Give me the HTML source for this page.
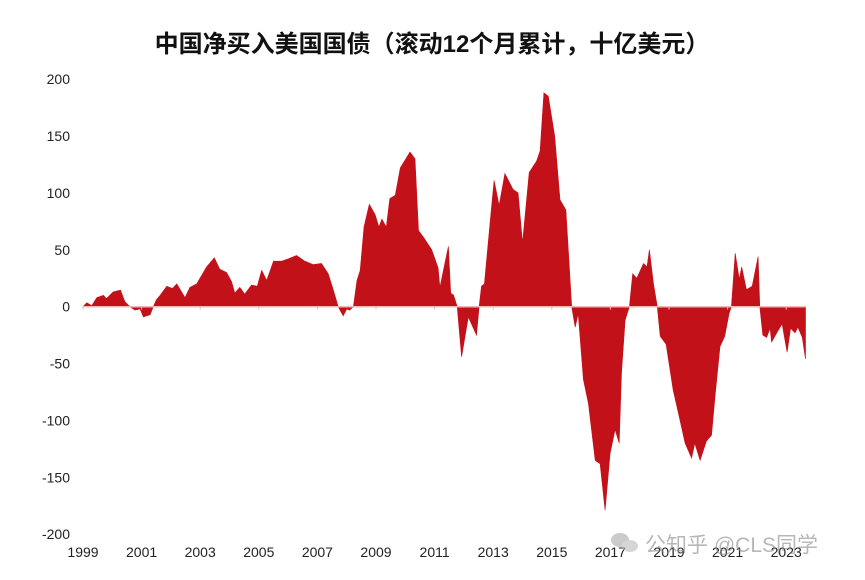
<!DOCTYPE html>
<html><head><meta charset="utf-8">
<style>
html,body{margin:0;padding:0;background:#fff;}
body{width:865px;height:575px;overflow:hidden;font-family:"Liberation Sans","Noto Sans CJK SC",sans-serif;}
</style></head>
<body>
<svg id="chart" width="865" height="575" xmlns="http://www.w3.org/2000/svg">
<text x="432" y="52" text-anchor="middle" font-family="Liberation Sans, Noto Sans CJK SC, sans-serif" font-size="24" font-weight="bold" fill="#111">中国净买入美国国债（滚动12个月累计，十亿美元）</text>
<g id="yaxis"></g>
<g id="xaxis"></g>
<g id="series"></g>
<g opacity="0.6">
<ellipse cx="620" cy="540" rx="9" ry="7" fill="#aaa"/><ellipse cx="630" cy="546" rx="8" ry="6" fill="#bbb"/>
<text x="645" y="552" font-size="21" fill="#888" font-family="Liberation Sans, Noto Sans CJK SC, sans-serif">公知乎 @CLS同学</text>
</g>
</svg>
<script>
const dates=[1999.0,1999.13,1999.3,1999.47,1999.7,1999.8,2000.03,2000.28,2000.43,2000.6,2000.77,2000.95,2001.06,2001.29,2001.4,2001.5,2001.6,2001.86,2002.05,2002.2,2002.48,2002.65,2002.88,2003.22,2003.48,2003.67,2003.9,2004.07,2004.18,2004.35,2004.52,2004.75,2004.95,2005.1,2005.27,2005.5,2005.78,2006.0,2006.29,2006.57,2006.86,2007.14,2007.37,2007.54,2007.71,2007.88,2008.0,2008.1,2008.23,2008.35,2008.46,2008.59,2008.77,2008.97,2009.1,2009.2,2009.35,2009.47,2009.66,2009.83,2010.16,2010.33,2010.45,2010.62,2010.9,2011.12,2011.18,2011.47,2011.55,2011.65,2011.77,2011.92,2012.15,2012.43,2012.52,2012.6,2012.7,2012.9,2013.03,2013.2,2013.4,2013.68,2013.85,2014.0,2014.23,2014.48,2014.6,2014.73,2014.88,2015.1,2015.28,2015.48,2015.68,2015.8,2015.9,2016.08,2016.25,2016.48,2016.65,2016.82,2016.99,2017.16,2017.3,2017.38,2017.5,2017.65,2017.76,2017.9,2018.13,2018.25,2018.33,2018.47,2018.6,2018.7,2018.9,2019.14,2019.35,2019.55,2019.77,2019.88,2020.06,2020.28,2020.45,2020.57,2020.74,2020.9,2021.05,2021.13,2021.26,2021.4,2021.48,2021.64,2021.84,2022.04,2022.1,2022.2,2022.33,2022.45,2022.5,2022.7,2022.86,2023.03,2023.15,2023.3,2023.4,2023.55,2023.66];
const values=[0,3.5,1,8,10,7,13,14.6,4.4,0,-3,-2,-9,-7,0,6,9,18,16,20,8,17,20,35,43,33,30,22,12,17,11,19,18,32,23,40,40,42,45,40,37,38,29,15,0,-8,-2,-3,0,23,32,70,90,81,70,77,70,95,98,122,136,130,67,61,50,34,17,53,12,10,0,-44,-9,-25,0,18,20,76,111,89,117,103,100,56,118,128,137,188,185,150,94,85,0,-18,-6,-64,-85,-135,-138,-179,-129,-108,-120,-58,-12,0,29,25,38,35,50,20,0,-26,-33,-73,-97,-120,-133,-120,-135,-118,-113,-79,-35,-26,-6,0,47,24,35,15,18,44,0,-25,-27,-19,-31,-22,-15,-40,-19,-23,-18,-27,-46];
const yTicks=[200,150,100,50,0,-50,-100,-150,-200];
const xTicks=[1999,2001,2003,2005,2007,2009,2011,2013,2015,2017,2019,2021,2023];
const NS="http://www.w3.org/2000/svg";
const X=y=>83+(y-1999)*29.3;
const Y=v=>306.7-v*1.1375;
const ya=document.getElementById('yaxis');
yTicks.forEach(t=>{const e=document.createElementNS(NS,'text');


e.setAttribute('x',70);e.setAttribute('y',Y(t)+5);e.setAttribute('text-anchor','end');e.setAttribute('font-size','14');e.setAttribute('fill','#222');e.textContent=t;ya.appendChild(e);});
const xa=document.getElementById('xaxis');
xTicks.forEach(t=>{const e=document.createElementNS(NS,'text');


e.setAttribute('x',X(t));e.setAttribute('y',557);e.setAttribute('text-anchor','middle');e.setAttribute('font-size','14');e.setAttribute('fill','#222');e.textContent=t;xa.appendChild(e);});
const s=document.getElementById('series');
let d='M'+X(dates[0])+','+Y(0);
dates.forEach((t,i)=>{d+=' L'+X(t).toFixed(1)+','+Y(values[i]).toFixed(1);});
d+=' L'+X(dates[dates.length-1]).toFixed(1)+','+Y(0)+' Z';
const p=document.createElementNS(NS,'path');


p.setAttribute('d',d);p.setAttribute('fill','#c3111a');p.setAttribute('stroke','#c3111a');p.setAttribute('stroke-width','0.6');s.appendChild(p);
const z=document.createElementNS(NS,'line');


z.setAttribute('x1',X(1999));z.setAttribute('x2',X(dates[dates.length-1]));z.setAttribute('y1',Y(0));z.setAttribute('y2',Y(0));z.setAttribute('stroke','#f2b8b8');z.setAttribute('stroke-width','1.5');s.appendChild(z);
xTicks.forEach(t=>{const m=document.createElementNS(NS,'line');


m.setAttribute('x1',X(t));m.setAttribute('x2',X(t));m.setAttribute('y1',Y(0));m.setAttribute('y2',Y(0)+3);m.setAttribute('stroke','#f2b8b8');m.setAttribute('stroke-width','1');s.appendChild(m);});
</script>
</body></html>
